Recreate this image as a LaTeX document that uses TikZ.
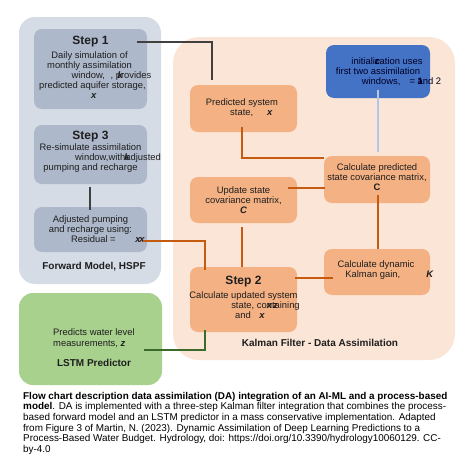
\documentclass[tikz,border=0pt]{standalone}
\usepackage{fontspec}
\setmainfont{Liberation Sans}
\usetikzlibrary{calc}
\definecolor{fwdpanel}{HTML}{D6DCE6}
\definecolor{fwdbox}{HTML}{ADB8CA}
\definecolor{kalpanel}{HTML}{FBE5D6}
\definecolor{orbox}{HTML}{F4B183}
\definecolor{bluebox}{HTML}{4472C4}
\definecolor{greenpanel}{HTML}{A9D18E}
\definecolor{orline}{HTML}{C55A11}
\definecolor{grayline}{HTML}{404040}
\definecolor{blueline}{HTML}{B4C7E7}
\definecolor{greenline}{HTML}{3B6A2B}
\definecolor{txt}{HTML}{1E1E1E}
\newcommand\bix[1]{\textbf{\textit{#1}}}
\newcommand\shl[2]{\makebox[0pt]{\hspace*{#1pt}\hspace*{#1pt}#2}}
\newcommand\tfont{\fontsize{12}{14}\selectfont\bfseries}
\newcommand\capfont{\fontsize{9.9}{10.7}\selectfont}
\tikzset{
  panel/.style={rounded corners=#1, draw=none, inner sep=0pt},
  boxnode/.style={rounded corners=8pt, draw=none, inner sep=0pt, align=center,
    text=txt, font=\fontsize{9.4}{10}\selectfont},
  fbox/.style={boxnode, fill=fwdbox},
  obox/.style={boxnode, fill=orbox},
  lbl/.style={font=\fontsize{10}{12}\selectfont\bfseries, text=txt, inner sep=0pt},
  conn/.style={line width=1.3pt, draw=#1},
}
\begin{document}
\begin{tikzpicture}[x=1pt,y=-1pt]
\useasboundingbox (0,0) rectangle (474,474);
\fill[white] (0,0) rectangle (474,474);
% panels
\node[panel=16pt, fill=fwdpanel, minimum width=142pt, minimum height=267pt] (fwd) at (90,150.5) {};
\node[panel=26pt, fill=kalpanel, minimum width=282pt, minimum height=323pt] (kal) at (314,198.5) {};
\node[panel=14pt, fill=greenpanel, minimum width=143pt, minimum height=92pt] (lstm) at (90.5,339) {};
% forward model boxes
\node[fbox, minimum width=113pt, minimum height=80pt] (step1) at (90.5,69) {%
{\tfont Step 1}\\[4.2pt]
\shl{-1}{Daily simulation of}\\
\shl{-1}{monthly assimilation}\\
\shl{21}{window, \hspace{3pt}, pr\llap{\bix{k}\hspace{1pt}}ovides}\\
\shl{2}{predicted aquifer storage,}\\
\shl{3.5}{\bix{x}}\rule[-3pt]{0pt}{0pt}};
\node[fbox, minimum width=113pt, minimum height=59pt] (step3) at (90.5,154.5) {%
{\tfont Step 3}\\[1.2pt]
\shl{0}{Re-simulate assimilation}\\
\shl{27.5}{window,with\rlap{\hspace{-1pt}\bix{k}}adjusted}\\
\shl{0}{pumping and recharge}\rule[-8pt]{0pt}{0pt}};
\node[fbox, minimum width=113pt, minimum height=45pt] (adj) at (90.5,229.5) {%
\shl{0}{Adjusted pumping}\\
\shl{0}{and recharge using:}\\
\shl{17.5}{Residual = \hspace{17pt}\bix{x}\kern-1.5pt\bix{x}}};
% kalman boxes
\node[obox, minimum width=107pt, minimum height=47pt] (pss) at (243.5,108.5) {%
\shl{-1.5}{Predicted system}\\
\shl{8}{state,\hspace{14pt}\bix{x}}\rule[-2pt]{0pt}{0pt}};
\node[boxnode, fill=bluebox, rounded corners=8pt, minimum width=104pt, minimum height=53pt, text=black!85!blue] (blue) at (378,71.5) {%
\shl{9}{initiali\rlap{\bix{c}}zation uses}\\
\shl{0}{first two assimilation}\\
\shl{23.5}{windows,\hspace{9pt}= \rlap{\textbf{1}}and 2}};
\node[obox, minimum width=106pt, minimum height=47pt] (cpc) at (377,179.5) {%
\shl{0}{Calculate predicted}\\
\shl{0}{state covariance matrix,}\\
\shl{0}{\textbf{C}}\rule[-4pt]{0pt}{0pt}};
\node[obox, minimum width=107pt, minimum height=46pt] (usc) at (243.5,200) {%
\shl{0}{Update state}\\
\shl{0}{covariance matrix,}\\
\shl{0}{\bix{C}}};
\node[obox, minimum width=107pt, minimum height=65pt] (step2) at (243.5,299.5) {%
{\tfont Step 2}\\[4.2pt]
\shl{0}{Calculate updated system}\\
\shl{22}{state, co\rlap{\bix{x}\hspace{0.5pt}\bix{z}}ntaining}\\
\shl{6.5}{and \hspace{6pt}\bix{x}}\rule[-5pt]{0pt}{0pt}};
\node[obox, minimum width=106pt, minimum height=46pt] (kgain) at (377,272) {%
\shl{-1}{Calculate dynamic}\\
\shl{12.5}{Kalman gain,\hspace{26pt}\bix{K}}\rule[-5pt]{0pt}{0pt}};
% labels
\node[lbl] (fwdlbl) at (94,267) {Forward Model, HSPF};
\node[lbl] (kallbl) at (320,343) {Kalman Filter - Data Assimilation};
\node[lbl] (lstmlbl) at (94,363) {LSTM Predictor};
\node[anchor=west, align=left, inner sep=0pt, text=txt, font=\fontsize{9.4}{10}\selectfont] (lstmtxt) at (53,338.5) {Predicts water level\\[1pt]measurements, \bix{z}};
% connectors
\draw[conn=grayline] ($(step1.east)+(-10,-27)$) -| ($(pss.north)+(-31.5,-5)$);
\draw[conn=orline] ($(pss.south)+(-1.5,-5)$) |- ($(cpc.west)+(0,-21.5)$);
\draw[conn=blueline] ($(blue.south)+(0,-8)$) -- ($(cpc.north)+(1,-4)$);
\draw[conn=orline] ($(cpc.west)+(1,8.5)$) -- ($(usc.east)+(-9,-12)$);
\draw[conn=orline] ($(usc.south)+(-1.5,4)$) -- ($(step2.north)+(-1.5,0)$);
\draw[conn=orline] ($(cpc.south)+(1,-8)$) -- ($(kgain.north)+(1,0)$);
\draw[conn=orline] ($(kgain.west)+(9,6)$) -- ($(step2.east)+(-2,-21.5)$);
\draw[conn=orline] ($(adj.east)+(-4,11.5)$) -| ($(step2.north)+(-38.5,3)$);
\draw[conn=grayline] ($(step3.south)+(-0.5,2.5)$) -- ($(adj.north)+(-0.5,3)$);
\draw[conn=greenline] ($(lstm.east)+(-18,11)$) -| ($(step2.south)+(-38.5,-2)$);
% caption
\node[anchor=north west, align=left, inner sep=0pt, text=black, font=\capfont] (caption) at (23,391.8) {%
\textbf{Flow chart description data assimilation (DA) integration of an AI-ML and a process-based}\\
\textbf{model}. DA is implemented with a three-step Kalman filter integration that combines the process-\\
based forward model and an LSTM predictor in a mass conservative implementation. Adapted\\
from Figure 3 of Martin, N. (2023). Dynamic Assimilation of Deep Learning Predictions to a\\
Process-Based Water Budget. Hydrology, doi: https://doi.org/10.3390/hydrology10060129. CC-\\
by-4.0};
\end{tikzpicture}
\end{document}
